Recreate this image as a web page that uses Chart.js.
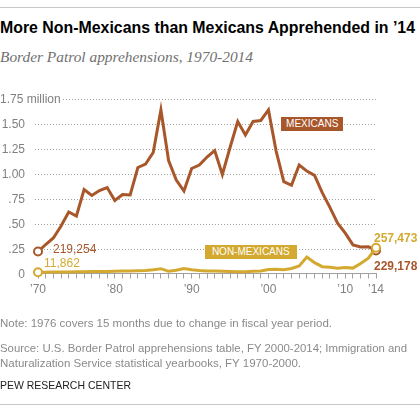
<!DOCTYPE html>
<html>
<head>
<meta charset="utf-8">
<script src="https://cdn.jsdelivr.net/npm/chart.js@4"></script>
<style>
  html, body { margin: 0; padding: 0; background: #fff; }
  #wrap { position: relative; width: 420px; height: 410px; overflow: hidden; font-family: "Liberation Sans", Arial, sans-serif; }
  #c { position: absolute; left: 0; top: 0; }
  .t { position: absolute; left: 0; white-space: nowrap; transform-origin: 0 0; display: inline-block; }
  .rule { position: absolute; left: 0; width: 420px; height: 1px; background: #c8c8c8; }
  .ov { position: absolute; white-space: nowrap; }
  .box { position: absolute; color: #fff; font-size: 10px; line-height: 14px; height: 14px; text-align: center; }
</style>
</head>
<body>
<div id="wrap">
  <div class="rule" style="top:7px"></div>
  <span class="t" data-w="415" style="top:18px;font-size:16px;line-height:20px;font-weight:bold;color:#000;">More Non-Mexicans than Mexicans Apprehended in ’14</span>
  <span class="t" data-w="253" style="top:49px;font-size:14px;line-height:18px;font-style:italic;font-family:'Liberation Serif','DejaVu Serif',serif;color:#707070;">Border Patrol apprehensions, 1970-2014</span>
  <canvas id="c" width="420" height="410"></canvas>
  <span class="t" data-w="332" style="top:316px;font-size:11.5px;line-height:14px;color:#8a8a8a;">Note: 1976 covers 15 months due to change in fiscal year period.</span>
  <span class="t" data-w="407" style="top:341px;font-size:11.5px;line-height:14px;color:#8a8a8a;">Source: U.S. Border Patrol apprehensions table, FY 2000-2014; Immigration and</span>
  <span class="t" data-w="301" style="top:356px;font-size:11.5px;line-height:14px;color:#8a8a8a;">Naturalization Service statistical yearbooks, FY 1970-2000.</span>
  <span class="t" data-w="131" style="top:378px;font-size:11.5px;line-height:14px;color:#222;">PEW RESEARCH CENTER</span>
  <div class="rule" style="top:404px"></div>
</div>
<script>
// ---- data ----
const years = [1970,1971,1972,1973,1974,1975,1976,1977,1978,1979,1980,1981,1982,1983,1984,1985,1986,1987,1988,1989,
               1990,1991,1992,1993,1994,1995,1996,1997,1998,1999,2000,2001,2002,2003,2004,2005,2006,2007,2008,2009,
               2010,2011,2012,2013,2014];
// apprehensions, millions
const mexicans = [0.219254,0.29,0.355,0.475,0.615,0.575,0.84,0.78,0.83,0.86,0.73,0.79,0.785,1.06,1.095,1.21,1.635,1.13,0.935,0.825,
                  1.05,1.085,1.165,1.23,0.99,1.26,1.52,1.385,1.52,1.53,1.636,1.224,0.918,0.882,1.085,1.024,0.981,0.809,0.662,0.503,
                  0.404,0.286,0.266,0.268,0.229178];
const nonMexicans = [0.011862,0.012,0.014,0.015,0.016,0.017,0.018,0.02,0.02,0.021,0.022,0.024,0.025,0.027,0.03,0.038,0.048,0.022,0.032,0.05,
                     0.037,0.03,0.025,0.024,0.022,0.02,0.018,0.017,0.022,0.026,0.04,0.042,0.037,0.05,0.075,0.165,0.108,0.068,0.062,0.053,
                     0.059,0.054,0.099,0.153,0.257473];
const xTickYears = [1970,1980,1990,2000,2010,2014];
const xTickLabels = ["’70","’80","’90","’00","’10","’14"];
const seriesNames = ["MEXICANS","NON-MEXICANS"];

const BROWN = '#a8572b';
const GOLD = '#d4a930';
const last = years.length - 1;

const toPts = arr => years.map((yr, i) => ({ x: yr, y: arr[i] }));
const endRadius = c => (c.dataIndex === 0 || c.dataIndex === last) ? 4 : 0;

const gridPlugin = {
  id: 'dotGrid',
  beforeDatasetsDraw(chart) {
    const { ctx, chartArea, scales: { y } } = chart;
    ctx.save();
    ctx.strokeStyle = '#a0a0a0';
    ctx.lineWidth = 1;
    ctx.setLineDash([1, 2]);
    y.ticks.forEach(t => {
      if (t.value === 0) return;
      const py = Math.round(y.getPixelForValue(t.value)) + 0.5;
      const x0 = t.value === y.max ? 63 : chartArea.left - 3;
      ctx.beginPath();
      ctx.moveTo(x0, py);
      ctx.lineTo(chartArea.right, py);
      ctx.stroke();
    });
    ctx.restore();
  }
};

const chart = new Chart(document.getElementById('c'), {
  type: 'line',
  data: {
    datasets: [
      { label: seriesNames[1], data: toPts(nonMexicans), borderColor: GOLD, borderWidth: 3, tension: 0,
        pointRadius: endRadius, pointBackgroundColor: '#fff', pointBorderColor: GOLD, pointBorderWidth: 2, clip: false },
      { label: seriesNames[0], data: toPts(mexicans), borderColor: BROWN, borderWidth: 3, tension: 0,
        pointRadius: endRadius, pointBackgroundColor: '#fff', pointBorderColor: BROWN, pointBorderWidth: 2, clip: false }
    ]
  },
  options: {
    responsive: false,
    animation: false,
    layout: { padding: { left: 38, right: 44, top: 98.5, bottom: 106.5 } },
    plugins: { legend: { display: false }, tooltip: { enabled: false } },
    scales: {
      x: {
        type: 'linear', min: 1970, max: 2014,
        afterFit: s => { s.height = 30; },
        ticks: {
          stepSize: 1, autoSkip: false, maxRotation: 0, padding: 4,
          color: '#808080', font: { family: 'Liberation Sans', size: 12 },
          callback: v => { const k = xTickYears.indexOf(v); return k >= 0 ? xTickLabels[k] : ''; }
        },
        grid: { drawOnChartArea: false, drawTicks: true, tickLength: 5, color: '#a0a0a0', lineWidth: 1 },
        border: { display: true, color: '#a0a0a0' }
      },
      y: {
        display: false, min: 0, max: 1.75,
        ticks: { stepSize: 0.25 }
      }
    }
  },
  plugins: [gridPlugin]
});

// ---- overlays positioned from the chart's scales ----
const wrap = document.getElementById('wrap');
const xs = chart.scales.x, ys = chart.scales.y;
function addText(html, style) {
  const d = document.createElement('div');
  d.className = 'ov';
  d.innerHTML = html;
  Object.assign(d.style, style);
  wrap.appendChild(d);
  return d;
}
// y tick labels
ys.ticks.forEach(t => {
  const v = t.value;
  const py = ys.getPixelForValue(v);
  let txt = v === 0 ? '0' : v.toFixed(2);
  if (v < 1 && v > 0) txt = txt.replace(/^0/, '');
  const st = { top: (py - 7) + 'px', fontSize: '12px', lineHeight: '14px', color: '#808080' };
  if (v === ys.max) { st.left = '0px'; addText('1.75 million', st); }
  else { st.right = (420 - 25) + 'px'; addText(txt, st); }
});
const fmt = v => Math.round(v * 1e6).toLocaleString('en-US');
// endpoint value labels
let px0 = xs.getPixelForValue(years[0]), pxN = xs.getPixelForValue(years[last]);
addText(fmt(mexicans[0]), { left: (px0 + 15) + 'px', top: (ys.getPixelForValue(mexicans[0]) - 10) + 'px', fontSize: '12px', lineHeight: '14px', color: BROWN });
addText(fmt(nonMexicans[0]), { left: (px0 + 6) + 'px', top: (ys.getPixelForValue(nonMexicans[0]) - 16) + 'px', fontSize: '12px', lineHeight: '14px', color: GOLD });
addText(fmt(nonMexicans[last]), { left: (pxN - 2) + 'px', top: (ys.getPixelForValue(nonMexicans[last]) - 17) + 'px', fontSize: '12px', lineHeight: '14px', fontWeight: 'bold', color: GOLD });
addText(fmt(mexicans[last]), { left: (pxN - 2) + 'px', top: (ys.getPixelForValue(mexicans[last]) + 8) + 'px', fontSize: '12px', lineHeight: '14px', fontWeight: 'bold', color: BROWN });
// series name boxes
function addBox(txt, cx, cyv, w, bg) {
  const d = document.createElement('div');
  d.className = 'box';
  d.textContent = txt;
  const px = xs.getPixelForValue(cx), py = ys.getPixelForValue(cyv);
  Object.assign(d.style, { left: (px - w / 2) + 'px', top: (py - 7) + 'px', width: w + 'px', background: bg });
  wrap.appendChild(d);
}
addBox(seriesNames[0], 2005.7, 1.5, 62, BROWN);
addBox(seriesNames[1], 1997.7, 0.22, 92, GOLD);

// fit static text widths
document.querySelectorAll('.t[data-w]').forEach(el => {
  const w = +el.dataset.w;
  const r = w / el.getBoundingClientRect().width;
  el.style.transform = 'scaleX(' + r + ')';
});
</script>
</body>
</html>
